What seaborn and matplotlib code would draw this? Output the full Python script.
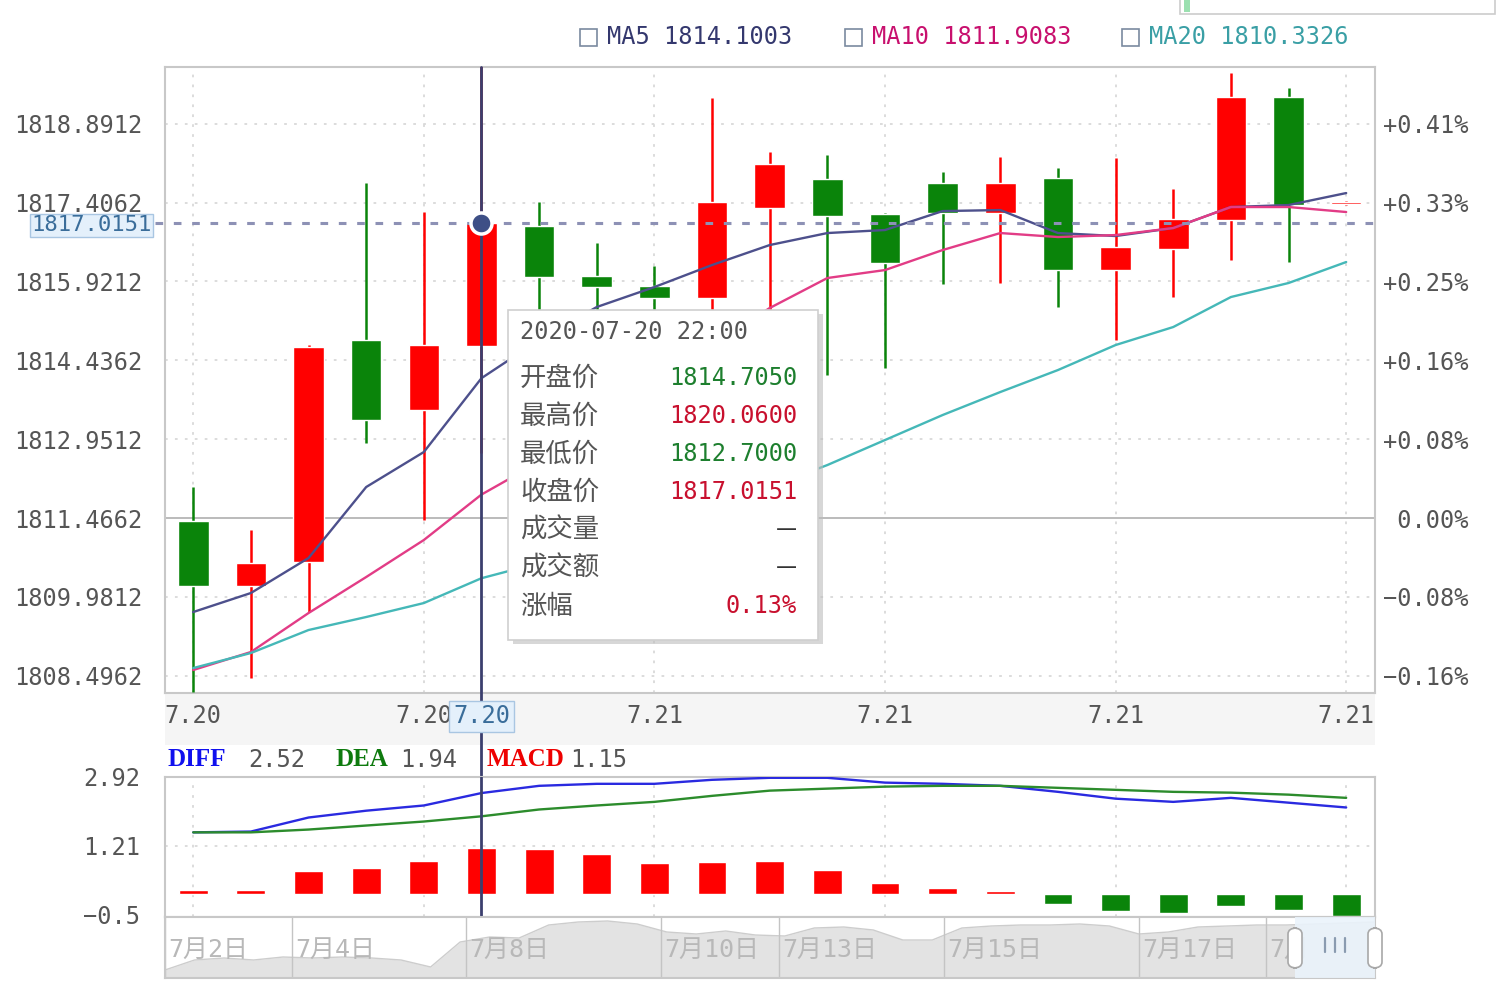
import numpy as np
import pandas as pd
import matplotlib
matplotlib.use("Agg")
import matplotlib.pyplot as plt
import matplotlib.transforms as mtransforms
from matplotlib.patches import Rectangle, FancyBboxPatch
from matplotlib.lines import Line2D
import seaborn as sns

# ---- values (gold, 1h candles, 7.20 - 7.21) ----
opens = [1811.410, 1810.186, 1810.638, 1814.818, 1813.500, 1814.7050, 1816.965,
         1816.023, 1815.835, 1815.609, 1817.304, 1817.850, 1817.191, 1817.775,
         1817.210, 1817.869, 1816.136, 1816.532, 1817.078, 1819.394, 1817.379]
highs = [1812.050, 1811.240, 1814.724, 1817.775, 1817.229, 1820.0600, 1817.417,
         1816.645, 1816.212, 1819.375, 1818.359, 1818.302, 1817.210, 1817.982,
         1818.264, 1818.057, 1818.246, 1817.662, 1819.846, 1819.564, 1817.430]
lows = [1808.189, 1808.453, 1809.696, 1812.879, 1811.429, 1812.7000, 1815.300,
        1815.200, 1815.050, 1815.250, 1815.000, 1814.159, 1814.291, 1815.873,
        1815.892, 1815.440, 1814.818, 1815.628, 1816.325, 1816.287, 1817.360]
closes = [1810.186, 1810.619, 1814.686, 1813.312, 1814.724, 1817.0151, 1816.004,
          1815.816, 1815.609, 1817.417, 1818.133, 1817.153, 1816.268, 1817.210,
          1817.775, 1816.136, 1816.569, 1817.097, 1819.394, 1817.360, 1817.417]

ma5 = [1809.696, 1810.054, 1810.713, 1812.050, 1812.709, 1814.1003, 1814.818,
       1815.440, 1815.816, 1816.231, 1816.607, 1816.833, 1816.890, 1817.247,
       1817.266, 1816.833, 1816.777, 1816.927, 1817.323, 1817.360, 1817.586]
ma10 = [1808.604, 1808.943, 1809.677, 1810.355, 1811.052, 1811.9083, 1812.521,
        1813.312, 1813.971, 1814.724, 1815.421, 1815.986, 1816.136, 1816.513,
        1816.833, 1816.758, 1816.795, 1816.927, 1817.323, 1817.323, 1817.229]
ma20 = [1808.641, 1808.924, 1809.357, 1809.602, 1809.865, 1810.3326, 1810.619,
        1810.901, 1811.278, 1811.655, 1812.050, 1812.464, 1812.935, 1813.406,
        1813.839, 1814.253, 1814.724, 1815.063, 1815.628, 1815.892, 1816.287]

diff = [1.54, 1.56, 1.91, 2.08, 2.21, 2.52, 2.70, 2.75, 2.75, 2.85, 2.90,
        2.90, 2.78, 2.75, 2.70, 2.55, 2.38, 2.30, 2.40, 2.28, 2.16]
dea = [1.54, 1.54, 1.61, 1.71, 1.81, 1.94, 2.11, 2.21, 2.30, 2.45, 2.58,
       2.63, 2.68, 2.70, 2.70, 2.65, 2.60, 2.55, 2.53, 2.48, 2.40]
macd = [0.10, 0.10, 0.57, 0.64, 0.82, 1.15, 1.12, 0.99, 0.77, 0.79, 0.82,
        0.59, 0.27, 0.16, 0.09, -0.25, -0.42, -0.47, -0.30, -0.40, -0.55]

price_ticks = [1808.4962, 1809.9812, 1811.4662, 1812.9512, 1814.4362,
               1815.9212, 1817.4062, 1818.8912]
base_price = 1811.4662
time_tick_idx = [0, 4, 8, 12, 16, 20]
time_tick_labels = ["7.20", "7.20", "7.21", "7.21", "7.21", "7.21"]
macd_ticks = [-0.5, 1.21, 2.92]
macd_tick_labels = ["\u22120.5", "1.21", "2.92"]

# overview strip (navigator) under the chart
nav_close = [1768, 1778, 1780, 1778, 1781, 1780, 1781, 1780, 1778, 1771, 1796,
             1801, 1800, 1813, 1816, 1817, 1814, 1806, 1804, 1807, 1803, 1802,
             1810, 1811, 1808, 1798, 1798, 1810, 1812, 1813, 1813, 1814, 1812,
             1804, 1806, 1811, 1812, 1813, 1813, 1814, 1815, 1816]
nav_labels = ["7月2日", "7月4日", "7月8日", "7月10日", "7月13日", "7月15日", "7月17日", "7月"]
nav_label_at = [0, 4.3, 10.2, 16.8, 20.8, 26.4, 33.0, 37.3]

hover = 5
RED, GREEN = "#ff0000", "#0a840a"
MA_COLORS = {"MA5": "#4d508c", "MA10": "#e23c86", "MA20": "#45b8b8"}
GRID = "#d9d9d9"
TXT = "#555555"

sns.set_theme(style="white")
plt.rcParams["font.family"] = ["DejaVu Sans Mono", "Noto Sans CJK SC"]

fig = plt.figure(figsize=(15, 10), dpi=100)
W, H = 1500.0, 1000.0


def fx(px):
    return px / W


def fy(py):
    return 1 - py / H


L, Rt = fx(165), fx(1375)
ax = fig.add_axes([L, fy(693), Rt - L, (693 - 67) / H])
axm = fig.add_axes([L, fy(917), Rt - L, (917 - 777) / H])
axn = fig.add_axes([L, fy(978), Rt - L, (978 - 917) / H])

# light strip behind the time labels
fig.patches.append(Rectangle((fx(165), fy(745)), Rt - L, 52 / H, transform=fig.transFigure,
                             facecolor="#f5f5f5", edgecolor="none", zorder=-1))

idx = np.arange(len(closes))
o, c = np.array(opens), np.array(closes)
colors = np.where(c >= o, RED, GREEN)

# ---- main candle panel ----
ax.set_xlim(-0.49, 20.5)
ax.set_ylim(1808.171, 1819.96)
for t in price_ticks:
    if t == base_price:
        ax.axhline(t, color="#b5b5b5", lw=1.3, zorder=1)
    else:
        ax.axhline(t, color=GRID, lw=1.3, ls=(0, (1.5, 4)), zorder=1)
for t in time_tick_idx:
    ax.axvline(t, color=GRID, lw=1.3, ls=(0, (1.5, 4)), zorder=1)

ax.vlines(idx, lows, highs, colors=colors, lw=1.8, zorder=3)
ax.bar(idx, np.maximum(np.abs(c - o), 0.04), bottom=np.minimum(o, c), width=0.53,
       color=colors, zorder=4)

ma_df = pd.DataFrame({"idx": np.tile(idx, 3),
                      "value": ma5 + ma10 + ma20,
                      "series": ["MA5"] * len(idx) + ["MA10"] * len(idx) + ["MA20"] * len(idx)})
sns.lineplot(data=ma_df, x="idx", y="value", hue="series", palette=MA_COLORS,
             legend=False, lw=1.7, ax=ax, zorder=5)

ax.set_yticks(price_ticks)
ax.set_yticklabels([f"{t:.4f}" for t in price_ticks])
ax.set_xticks(time_tick_idx)
ax.set_xticklabels(time_tick_labels)
ax.tick_params(axis="y", length=0, pad=16, labelsize=17, labelcolor=TXT)
ax.tick_params(axis="x", length=0, pad=8, labelsize=17, labelcolor=TXT)
ax.set_xlabel("")
ax.set_ylabel("")
for s in ax.spines.values():
    s.set_color("#c8c8c8")
    s.set_linewidth(1.5)

ax2 = ax.twinx()
ax2.set_ylim(ax.get_ylim())
ax2.set_yticks(price_ticks)
pct_labels = []
for t in price_ticks:
    p = (t - base_price) / base_price * 100
    if abs(p) < 0.005:
        pct_labels.append(" 0.00%")
    elif p > 0:
        pct_labels.append(f"+{p:.2f}%")
    else:
        pct_labels.append(f"\u2212{abs(p):.2f}%")
ax2.set_yticklabels(pct_labels)
ax2.tick_params(axis="y", length=0, pad=6, labelsize=17, labelcolor=TXT)
for s in ax2.spines.values():
    s.set_visible(False)
ax2.grid(False)

# crosshair on the hovered candle
ax.axhline(closes[hover], xmin=-0.008, color="#8d91b5", lw=2.2, ls=(0, (2.5, 3.5)),
           zorder=6, clip_on=False)
ax.axvline(hover, ymin=-(777 - 693) / 626, ymax=1, color="#3b3f6e", lw=2.0,
           zorder=6, clip_on=False)
ax.scatter([hover], [closes[hover]], s=230, color="#3e4f86", edgecolor="white",
           linewidth=2.5, zorder=9)
ax.text(-0.011, closes[hover] - 0.04, f"{closes[hover]:.4f}",
        transform=mtransforms.blended_transform_factory(ax.transAxes, ax.transData),
        ha="right", va="center", fontsize=16, color="#3a6d9a", zorder=12,
        bbox=dict(boxstyle="square,pad=0.08", facecolor="#e4f0fb", edgecolor="#a9c6e2"))
ax.text(hover, -0.037, time_tick_labels[1],
        transform=mtransforms.blended_transform_factory(ax.transData, ax.transAxes),
        ha="center", va="center", fontsize=17, color="#3a6d9a", zorder=12, clip_on=False,
        bbox=dict(boxstyle="square,pad=0.15", facecolor="#e4f0fb", edgecolor="#a9c6e2"))

# tooltip
tx0, tx1, ty0, ty1 = 0.2835, 0.5397, 0.0847, 0.6118
ax.add_patch(Rectangle((tx0 + 0.004, ty0 - 0.007), tx1 - tx0, ty1 - ty0, transform=ax.transAxes,
                       facecolor="#bdbdbd", edgecolor="none", alpha=0.6, zorder=10))
ax.add_patch(Rectangle((tx0, ty0), tx1 - tx0, ty1 - ty0, transform=ax.transAxes,
                       facecolor="white", edgecolor="#cfcfcf", lw=1.2, zorder=10.5))
ax.text(0.2934, 0.5767, "2020-07-20 22:00", transform=ax.transAxes, fontsize=17,
        color="#555555", va="center", zorder=11)
chg = (closes[hover] - closes[hover - 1]) / closes[hover - 1] * 100
rows = [("开盘价", f"{opens[hover]:.4f}", "#1d7f2e"),
        ("最高价", f"{highs[hover]:.4f}", "#c8102e"),
        ("最低价", f"{lows[hover]:.4f}", "#1d7f2e"),
        ("收盘价", f"{closes[hover]:.4f}", "#c8102e"),
        ("成交量", "—", "#333333"),
        ("成交额", "—", "#333333"),
        ("涨幅", f"{chg:.2f}%", "#c8102e")]
for k, (lab, val, col) in enumerate(rows):
    yy = 0.5032 - k * 0.0607
    ax.text(0.2934, yy, lab, transform=ax.transAxes, fontsize=19, color="#555555",
            va="center", zorder=11, family="Noto Sans CJK SC")
    fam = "Noto Sans CJK SC" if val == "—" else None
    ax.text(0.5223, yy, val, transform=ax.transAxes, fontsize=17, color=col,
            va="center", ha="right", zorder=11, family=fam)

# ---- MACD panel ----
axm.set_xlim(ax.get_xlim())
axm.set_ylim(-0.57, 2.92)
axm.axhline(1.21, color=GRID, lw=1.3, ls=(0, (1.5, 4)), zorder=1)
for t in time_tick_idx:
    axm.axvline(t, color=GRID, lw=1.3, ls=(0, (1.5, 4)), zorder=1)
mv = np.array(macd)
axm.bar(idx, mv, width=0.5, color=np.where(mv >= 0, RED, GREEN), zorder=3)
macd_df = pd.DataFrame({"idx": np.tile(idx, 2), "value": diff + dea,
                        "series": ["DIFF"] * len(idx) + ["DEA"] * len(idx)})
sns.lineplot(data=macd_df, x="idx", y="value", hue="series",
             palette={"DIFF": "#2a2ae0", "DEA": "#2c8c2c"}, legend=False, lw=1.7,
             ax=axm, zorder=4)
axm.axvline(hover, color="#3b3f6e", lw=2.0, zorder=6)
axm.set_yticks(macd_ticks)
axm.set_yticklabels(macd_tick_labels)
axm.set_xticks([])
axm.set_xlabel("")
axm.set_ylabel("")
axm.tick_params(axis="y", length=0, pad=18, labelsize=17, labelcolor=TXT)
for s in axm.spines.values():
    s.set_color("#c8c8c8")
    s.set_linewidth(1.5)

# ---- navigator strip ----
nav_i = np.arange(len(nav_close))
axn.fill_between(nav_i, nav_close, 1760, color="#e3e3e3", lw=0)
axn.plot(nav_i, nav_close, color="#cdcdcd", lw=1)
axn.set_xlim(0, len(nav_close) - 1)
axn.set_ylim(1760, 1821)
for pos, lab in zip(nav_label_at, nav_labels):
    axn.axvline(pos, color="#c4c4c4", lw=1)
    axn.text(pos + 0.1, 1788, lab, fontsize=18, color="#b8b8b8", va="center", ha="left")
axn.add_patch(Rectangle((0.934, 0), 0.066, 1, transform=axn.transAxes,
                        facecolor="#eaf3fb", edgecolor="none", alpha=0.9, zorder=3))
axn.set_xticks([])
axn.set_yticks([])
for s in axn.spines.values():
    s.set_color("#c8c8c8")
    s.set_linewidth(1.5)
for hx in (1295, 1375):
    fig.patches.append(FancyBboxPatch((fx(hx - 7), fy(968)), 14 / W, 40 / H,
                                      boxstyle="round,pad=0,rounding_size=0.006",
                                      transform=fig.transFigure, facecolor="white",
                                      edgecolor="#a8a8a8", lw=1.2, zorder=5))
    for dy in (941, 948, 955):
        fig.lines.append(Line2D([fx(hx - 3), fx(hx + 3)], [fy(dy), fy(dy)],
                                transform=fig.transFigure, color="#888888", lw=1.5))
for gx in (1325, 1335, 1345):
    fig.lines.append(Line2D([fx(gx), fx(gx)], [fy(938), fy(952)],
                            transform=fig.transFigure, color="#8a9bb0", lw=1.6))

# ---- legends ----
ma_items = [("MA5", ma5[hover], 580), ("MA10", ma10[hover], 845), ("MA20", ma20[hover], 1122)]
ma_text_colors = {"MA5": "#34386e", "MA10": "#c8106e", "MA20": "#3a9fa5"}
for name, val, px in ma_items:
    fig.patches.append(Rectangle((fx(px), fy(46)), 17 / W, 17 / H, transform=fig.transFigure,
                                 facecolor="white", edgecolor="#7a8aa0", lw=1.2))
    fig.text(fx(px + 27), fy(37), f"{name} {val:.4f}", fontsize=17,
             color=ma_text_colors[name], va="center")

macd_items = [("DIFF", diff[hover], "#1010ee", 167, 248), ("DEA", dea[hover], "#0e7a0e", 336, 400),
              ("MACD", macd[hover], "#ee0000", 487, 570)]
for name, val, col, px, vx in macd_items:
    fig.text(fx(px), fy(760), name, fontsize=18, fontweight="bold", color=col,
             va="center", family=["Liberation Serif", "DejaVu Serif"])
    fig.text(fx(vx), fy(760), f"{val:.2f}", fontsize=17, color=TXT, va="center")

# partial search box at top right
fig.patches.append(Rectangle((fx(1180), fy(14)), 315 / W, 20 / H, transform=fig.transFigure,
                             facecolor="white", edgecolor="#cccccc", lw=1.2))
fig.patches.append(Rectangle((fx(1184), fy(12)), 6 / W, 12 / H, transform=fig.transFigure,
                             facecolor="#9be0b0", edgecolor="none"))

fig.savefig("out.png", dpi=100, facecolor="white")
